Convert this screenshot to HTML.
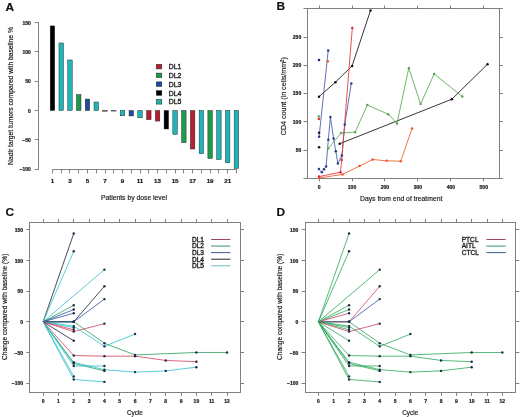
<!DOCTYPE html>
<html><head><meta charset="utf-8"><style>
html,body{margin:0;padding:0;background:#fff;width:520px;height:417px;overflow:hidden}
svg{display:block;font-family:"Liberation Sans", sans-serif;will-change:transform}
text{stroke:#222;stroke-width:0.18px}
.tk{stroke-width:0.22px}
.lg{stroke-width:0.35px}
</style></head><body>
<svg width="520" height="417" viewBox="0 0 520 417">
<rect width="520" height="417" fill="#fff"/>
<text x="0" y="0" font-size="10.9" font-weight="bold" fill="#111" transform="translate(5.5,10.55) scale(1.09,1)">A</text>
<line x1="38.50" y1="22.40" x2="38.50" y2="169.23" stroke="#7a7a7a" stroke-width="0.95"/>
<line x1="34.80" y1="22.50" x2="38.80" y2="22.50" stroke="#7a7a7a" stroke-width="0.95"/>
<text x="30.80" y="24.50" font-size="5.0" text-anchor="end" font-weight="bold" fill="#1a1a1a"  class="tk">150</text>
<line x1="34.80" y1="51.50" x2="38.80" y2="51.50" stroke="#7a7a7a" stroke-width="0.95"/>
<text x="30.80" y="53.87" font-size="5.0" text-anchor="end" font-weight="bold" fill="#1a1a1a"  class="tk">100</text>
<line x1="34.80" y1="81.50" x2="38.80" y2="81.50" stroke="#7a7a7a" stroke-width="0.95"/>
<text x="30.80" y="83.23" font-size="5.0" text-anchor="end" font-weight="bold" fill="#1a1a1a"  class="tk">50</text>
<line x1="34.80" y1="110.50" x2="38.80" y2="110.50" stroke="#7a7a7a" stroke-width="0.95"/>
<text x="30.80" y="112.60" font-size="5.0" text-anchor="end" font-weight="bold" fill="#1a1a1a"  class="tk">0</text>
<line x1="34.80" y1="139.50" x2="38.80" y2="139.50" stroke="#7a7a7a" stroke-width="0.95"/>
<text x="30.80" y="141.97" font-size="5.0" text-anchor="end" font-weight="bold" fill="#1a1a1a"  class="tk">&#8722;50</text>
<line x1="34.80" y1="169.50" x2="38.80" y2="169.50" stroke="#7a7a7a" stroke-width="0.95"/>
<text x="30.80" y="171.33" font-size="5.0" text-anchor="end" font-weight="bold" fill="#1a1a1a"  class="tk">&#8722;100</text>
<rect x="50.20" y="25.93" width="4.5" height="84.57" fill="#000000" stroke="#222" stroke-width="0.45"/>
<rect x="58.96" y="42.96" width="4.5" height="67.54" fill="#1fb4b8" stroke="#222" stroke-width="0.45"/>
<rect x="67.72" y="59.99" width="4.5" height="50.51" fill="#1fb4b8" stroke="#222" stroke-width="0.45"/>
<rect x="76.48" y="94.64" width="4.5" height="15.86" fill="#1f9a4a" stroke="#222" stroke-width="0.45"/>
<rect x="85.24" y="99.05" width="4.5" height="11.45" fill="#1f4a9e" stroke="#222" stroke-width="0.45"/>
<rect x="94.00" y="101.98" width="4.5" height="8.52" fill="#1fb4b8" stroke="#222" stroke-width="0.45"/>
<rect x="102.76" y="110.50" width="4.5" height="0.70" fill="#b5202e" stroke="#222" stroke-width="0.45"/>
<rect x="111.52" y="110.50" width="4.5" height="0.60" fill="#1fb4b8" stroke="#222" stroke-width="0.45"/>
<rect x="120.28" y="110.50" width="4.5" height="5.29" fill="#1fb4b8" stroke="#222" stroke-width="0.45"/>
<rect x="129.04" y="110.50" width="4.5" height="5.46" fill="#1f4a9e" stroke="#222" stroke-width="0.45"/>
<rect x="137.80" y="110.50" width="4.5" height="7.34" fill="#1fb4b8" stroke="#222" stroke-width="0.45"/>
<rect x="146.56" y="110.50" width="4.5" height="9.22" fill="#b5202e" stroke="#222" stroke-width="0.45"/>
<rect x="155.32" y="110.50" width="4.5" height="10.57" fill="#b5202e" stroke="#222" stroke-width="0.45"/>
<rect x="164.08" y="110.50" width="4.5" height="18.50" fill="#000000" stroke="#222" stroke-width="0.45"/>
<rect x="172.84" y="110.50" width="4.5" height="23.90" fill="#1fb4b8" stroke="#222" stroke-width="0.45"/>
<rect x="181.60" y="110.50" width="4.5" height="32.18" fill="#1f9a4a" stroke="#222" stroke-width="0.45"/>
<rect x="190.36" y="110.50" width="4.5" height="38.53" fill="#b5202e" stroke="#222" stroke-width="0.45"/>
<rect x="199.12" y="110.50" width="4.5" height="43.23" fill="#1fb4b8" stroke="#222" stroke-width="0.45"/>
<rect x="207.88" y="110.50" width="4.5" height="48.04" fill="#1f9a4a" stroke="#222" stroke-width="0.45"/>
<rect x="216.64" y="110.50" width="4.5" height="49.10" fill="#1fb4b8" stroke="#222" stroke-width="0.45"/>
<rect x="225.40" y="110.50" width="4.5" height="52.27" fill="#1fb4b8" stroke="#222" stroke-width="0.45"/>
<rect x="234.16" y="110.50" width="4.5" height="58.03" fill="#1fb4b8" stroke="#222" stroke-width="0.45"/>
<line x1="52.45" y1="169.50" x2="236.41" y2="169.50" stroke="#7a7a7a" stroke-width="0.95"/>
<line x1="52.50" y1="169.40" x2="52.50" y2="173.40" stroke="#7a7a7a" stroke-width="0.95"/>
<text x="52.45" y="183.40" font-size="6.2" text-anchor="middle" font-weight="bold" fill="#1a1a1a"  class="tk">1</text>
<line x1="61.50" y1="169.40" x2="61.50" y2="173.40" stroke="#7a7a7a" stroke-width="0.95"/>
<line x1="69.50" y1="169.40" x2="69.50" y2="173.40" stroke="#7a7a7a" stroke-width="0.95"/>
<text x="69.97" y="183.40" font-size="6.2" text-anchor="middle" font-weight="bold" fill="#1a1a1a"  class="tk">3</text>
<line x1="78.50" y1="169.40" x2="78.50" y2="173.40" stroke="#7a7a7a" stroke-width="0.95"/>
<line x1="87.50" y1="169.40" x2="87.50" y2="173.40" stroke="#7a7a7a" stroke-width="0.95"/>
<text x="87.49" y="183.40" font-size="6.2" text-anchor="middle" font-weight="bold" fill="#1a1a1a"  class="tk">5</text>
<line x1="96.50" y1="169.40" x2="96.50" y2="173.40" stroke="#7a7a7a" stroke-width="0.95"/>
<line x1="105.50" y1="169.40" x2="105.50" y2="173.40" stroke="#7a7a7a" stroke-width="0.95"/>
<text x="105.01" y="183.40" font-size="6.2" text-anchor="middle" font-weight="bold" fill="#1a1a1a"  class="tk">7</text>
<line x1="113.50" y1="169.40" x2="113.50" y2="173.40" stroke="#7a7a7a" stroke-width="0.95"/>
<line x1="122.50" y1="169.40" x2="122.50" y2="173.40" stroke="#7a7a7a" stroke-width="0.95"/>
<text x="122.53" y="183.40" font-size="6.2" text-anchor="middle" font-weight="bold" fill="#1a1a1a"  class="tk">9</text>
<line x1="131.50" y1="169.40" x2="131.50" y2="173.40" stroke="#7a7a7a" stroke-width="0.95"/>
<line x1="140.50" y1="169.40" x2="140.50" y2="173.40" stroke="#7a7a7a" stroke-width="0.95"/>
<text x="140.05" y="183.40" font-size="6.2" text-anchor="middle" font-weight="bold" fill="#1a1a1a"  class="tk">11</text>
<line x1="148.50" y1="169.40" x2="148.50" y2="173.40" stroke="#7a7a7a" stroke-width="0.95"/>
<line x1="157.50" y1="169.40" x2="157.50" y2="173.40" stroke="#7a7a7a" stroke-width="0.95"/>
<text x="157.57" y="183.40" font-size="6.2" text-anchor="middle" font-weight="bold" fill="#1a1a1a"  class="tk">13</text>
<line x1="166.50" y1="169.40" x2="166.50" y2="173.40" stroke="#7a7a7a" stroke-width="0.95"/>
<line x1="175.50" y1="169.40" x2="175.50" y2="173.40" stroke="#7a7a7a" stroke-width="0.95"/>
<text x="175.09" y="183.40" font-size="6.2" text-anchor="middle" font-weight="bold" fill="#1a1a1a"  class="tk">15</text>
<line x1="183.50" y1="169.40" x2="183.50" y2="173.40" stroke="#7a7a7a" stroke-width="0.95"/>
<line x1="192.50" y1="169.40" x2="192.50" y2="173.40" stroke="#7a7a7a" stroke-width="0.95"/>
<text x="192.61" y="183.40" font-size="6.2" text-anchor="middle" font-weight="bold" fill="#1a1a1a"  class="tk">17</text>
<line x1="201.50" y1="169.40" x2="201.50" y2="173.40" stroke="#7a7a7a" stroke-width="0.95"/>
<line x1="210.50" y1="169.40" x2="210.50" y2="173.40" stroke="#7a7a7a" stroke-width="0.95"/>
<text x="210.13" y="183.40" font-size="6.2" text-anchor="middle" font-weight="bold" fill="#1a1a1a"  class="tk">19</text>
<line x1="218.50" y1="169.40" x2="218.50" y2="173.40" stroke="#7a7a7a" stroke-width="0.95"/>
<line x1="227.50" y1="169.40" x2="227.50" y2="173.40" stroke="#7a7a7a" stroke-width="0.95"/>
<text x="227.65" y="183.40" font-size="6.2" text-anchor="middle" font-weight="bold" fill="#1a1a1a"  class="tk">21</text>
<line x1="236.50" y1="169.40" x2="236.50" y2="173.40" stroke="#7a7a7a" stroke-width="0.95"/>
<text x="134.00" y="199.80" font-size="6.8" text-anchor="middle" font-weight="normal" fill="#1a1a1a" >Patients by dose level</text>
<text x="0" y="0" font-size="6.72" fill="#1a1a1a" text-anchor="middle" transform="translate(13.4,96.0) rotate(-90)">Nadir target tumors compared with baseline %</text>
<rect x="156.3" y="64.30" width="5.5" height="4.6" fill="#b5202e" stroke="#222" stroke-width="0.5"/>
<text x="168.80" y="69.10" font-size="6.9" text-anchor="start" font-weight="normal" fill="#1a1a1a" class="lg">DL1</text>
<rect x="156.3" y="73.10" width="5.5" height="4.6" fill="#1f9a4a" stroke="#222" stroke-width="0.5"/>
<text x="168.80" y="77.90" font-size="6.9" text-anchor="start" font-weight="normal" fill="#1a1a1a" class="lg">DL2</text>
<rect x="156.3" y="81.90" width="5.5" height="4.6" fill="#1f4a9e" stroke="#222" stroke-width="0.5"/>
<text x="168.80" y="86.70" font-size="6.9" text-anchor="start" font-weight="normal" fill="#1a1a1a" class="lg">DL3</text>
<rect x="156.3" y="90.70" width="5.5" height="4.6" fill="#000000" stroke="#222" stroke-width="0.5"/>
<text x="168.80" y="95.50" font-size="6.9" text-anchor="start" font-weight="normal" fill="#1a1a1a" class="lg">DL4</text>
<rect x="156.3" y="99.50" width="5.5" height="4.6" fill="#20b4a4" stroke="#222" stroke-width="0.5"/>
<text x="168.80" y="104.30" font-size="6.9" text-anchor="start" font-weight="normal" fill="#1a1a1a" class="lg">DL5</text>
<text x="0" y="0" font-size="10.9" font-weight="bold" fill="#111" transform="translate(276.6,10.2) scale(1.09,1)">B</text>
<rect x="307.5" y="8.5" width="192.00" height="170.00" fill="none" stroke="#7a7a7a" stroke-width="0.95"/>
<line x1="303.50" y1="178.50" x2="307.50" y2="178.50" stroke="#7a7a7a" stroke-width="0.95"/>
<line x1="499.40" y1="178.50" x2="502.90" y2="178.50" stroke="#7a7a7a" stroke-width="0.95"/>
<line x1="303.50" y1="8.50" x2="307.50" y2="8.50" stroke="#7a7a7a" stroke-width="0.95"/>
<line x1="499.40" y1="8.50" x2="502.90" y2="8.50" stroke="#7a7a7a" stroke-width="0.95"/>
<line x1="303.50" y1="150.50" x2="307.50" y2="150.50" stroke="#7a7a7a" stroke-width="0.95"/>
<line x1="499.40" y1="150.50" x2="502.90" y2="150.50" stroke="#7a7a7a" stroke-width="0.95"/>
<text x="301.20" y="152.03" font-size="5.0" text-anchor="end" font-weight="bold" fill="#1a1a1a"  class="tk">50</text>
<line x1="303.50" y1="121.50" x2="307.50" y2="121.50" stroke="#7a7a7a" stroke-width="0.95"/>
<line x1="499.40" y1="121.50" x2="502.90" y2="121.50" stroke="#7a7a7a" stroke-width="0.95"/>
<text x="301.20" y="123.75" font-size="5.0" text-anchor="end" font-weight="bold" fill="#1a1a1a"  class="tk">100</text>
<line x1="303.50" y1="93.50" x2="307.50" y2="93.50" stroke="#7a7a7a" stroke-width="0.95"/>
<line x1="499.40" y1="93.50" x2="502.90" y2="93.50" stroke="#7a7a7a" stroke-width="0.95"/>
<text x="301.20" y="95.48" font-size="5.0" text-anchor="end" font-weight="bold" fill="#1a1a1a"  class="tk">150</text>
<line x1="303.50" y1="65.50" x2="307.50" y2="65.50" stroke="#7a7a7a" stroke-width="0.95"/>
<line x1="499.40" y1="65.50" x2="502.90" y2="65.50" stroke="#7a7a7a" stroke-width="0.95"/>
<text x="301.20" y="67.20" font-size="5.0" text-anchor="end" font-weight="bold" fill="#1a1a1a"  class="tk">200</text>
<line x1="303.50" y1="37.50" x2="307.50" y2="37.50" stroke="#7a7a7a" stroke-width="0.95"/>
<line x1="499.40" y1="37.50" x2="502.90" y2="37.50" stroke="#7a7a7a" stroke-width="0.95"/>
<text x="301.20" y="38.93" font-size="5.0" text-anchor="end" font-weight="bold" fill="#1a1a1a"  class="tk">250</text>
<line x1="319.50" y1="178.40" x2="319.50" y2="181.40" stroke="#7a7a7a" stroke-width="0.95"/>
<line x1="319.50" y1="8.60" x2="319.50" y2="5.60" stroke="#7a7a7a" stroke-width="0.95"/>
<text x="319.10" y="188.60" font-size="5.0" text-anchor="middle" font-weight="bold" fill="#1a1a1a"  class="tk">0</text>
<line x1="352.50" y1="178.40" x2="352.50" y2="181.40" stroke="#7a7a7a" stroke-width="0.95"/>
<line x1="352.50" y1="8.60" x2="352.50" y2="5.60" stroke="#7a7a7a" stroke-width="0.95"/>
<text x="352.03" y="188.60" font-size="5.0" text-anchor="middle" font-weight="bold" fill="#1a1a1a"  class="tk">100</text>
<line x1="384.50" y1="178.40" x2="384.50" y2="181.40" stroke="#7a7a7a" stroke-width="0.95"/>
<line x1="384.50" y1="8.60" x2="384.50" y2="5.60" stroke="#7a7a7a" stroke-width="0.95"/>
<text x="384.96" y="188.60" font-size="5.0" text-anchor="middle" font-weight="bold" fill="#1a1a1a"  class="tk">200</text>
<line x1="417.50" y1="178.40" x2="417.50" y2="181.40" stroke="#7a7a7a" stroke-width="0.95"/>
<line x1="417.50" y1="8.60" x2="417.50" y2="5.60" stroke="#7a7a7a" stroke-width="0.95"/>
<text x="417.89" y="188.60" font-size="5.0" text-anchor="middle" font-weight="bold" fill="#1a1a1a"  class="tk">300</text>
<line x1="450.50" y1="178.40" x2="450.50" y2="181.40" stroke="#7a7a7a" stroke-width="0.95"/>
<line x1="450.50" y1="8.60" x2="450.50" y2="5.60" stroke="#7a7a7a" stroke-width="0.95"/>
<text x="450.82" y="188.60" font-size="5.0" text-anchor="middle" font-weight="bold" fill="#1a1a1a"  class="tk">400</text>
<line x1="483.50" y1="178.40" x2="483.50" y2="181.40" stroke="#7a7a7a" stroke-width="0.95"/>
<line x1="483.50" y1="8.60" x2="483.50" y2="5.60" stroke="#7a7a7a" stroke-width="0.95"/>
<text x="483.75" y="188.60" font-size="5.0" text-anchor="middle" font-weight="bold" fill="#1a1a1a"  class="tk">500</text>
<text x="401.20" y="200.80" font-size="6.8" text-anchor="middle" font-weight="normal" fill="#1a1a1a" >Days from end of treatment</text>
<text x="0" y="0" font-size="7.1" fill="#1a1a1a" text-anchor="middle" transform="translate(286.3,96.2) rotate(-90)">CD4 count (in cells/mm&#178;)</text>
<polyline points="319.00,96.70 335.40,82.20 352.10,65.90 370.50,10.50" fill="none" stroke="#111" stroke-width="0.85" stroke-linejoin="round"/>
<polyline points="339.70,143.70 451.90,99.20 487.50,64.20" fill="none" stroke="#111" stroke-width="0.85" stroke-linejoin="round"/>
<polyline points="328.20,148.60 341.10,133.00 355.10,132.20 367.30,105.10 388.20,114.20 397.00,123.40 408.80,67.90 420.60,104.10 434.20,73.90 462.30,96.60" fill="none" stroke="#5aa850" stroke-width="0.85" stroke-linejoin="round"/>
<polyline points="319.10,178.00 342.50,174.40 359.60,166.00 372.60,159.50 386.70,160.80 400.70,161.20 412.10,128.40" fill="none" stroke="#f0582a" stroke-width="0.85" stroke-linejoin="round"/>
<polyline points="319.10,136.80 328.20,50.60" fill="none" stroke="#4558ac" stroke-width="0.85" stroke-linejoin="round"/>
<polyline points="318.90,169.00 321.80,172.30 324.00,169.20 326.10,166.40 328.30,139.80 330.40,117.00 333.60,138.60 335.80,151.30 337.90,163.50 341.90,155.50 344.80,124.50 351.30,83.40" fill="none" stroke="#4558ac" stroke-width="0.85" stroke-linejoin="round"/>
<polyline points="319.00,176.60 340.50,172.20 341.70,160.10 352.30,28.10" fill="none" stroke="#e63038" stroke-width="0.85" stroke-linejoin="round"/>
<circle cx="319.00" cy="96.70" r="1.25" fill="#111"/>
<circle cx="335.40" cy="82.20" r="1.25" fill="#111"/>
<circle cx="352.10" cy="65.90" r="1.25" fill="#111"/>
<circle cx="370.50" cy="10.50" r="1.25" fill="#111"/>
<circle cx="339.70" cy="143.70" r="1.25" fill="#111"/>
<circle cx="451.90" cy="99.20" r="1.25" fill="#111"/>
<circle cx="487.50" cy="64.20" r="1.25" fill="#111"/>
<circle cx="328.20" cy="148.60" r="1.25" fill="#5aa850"/>
<circle cx="341.10" cy="133.00" r="1.25" fill="#5aa850"/>
<circle cx="355.10" cy="132.20" r="1.25" fill="#5aa850"/>
<circle cx="367.30" cy="105.10" r="1.25" fill="#5aa850"/>
<circle cx="388.20" cy="114.20" r="1.25" fill="#5aa850"/>
<circle cx="397.00" cy="123.40" r="1.25" fill="#5aa850"/>
<circle cx="408.80" cy="67.90" r="1.25" fill="#5aa850"/>
<circle cx="420.60" cy="104.10" r="1.25" fill="#5aa850"/>
<circle cx="434.20" cy="73.90" r="1.25" fill="#5aa850"/>
<circle cx="462.30" cy="96.60" r="1.25" fill="#5aa850"/>
<circle cx="319.10" cy="178.00" r="1.25" fill="#f0582a"/>
<circle cx="342.50" cy="174.40" r="1.25" fill="#f0582a"/>
<circle cx="359.60" cy="166.00" r="1.25" fill="#f0582a"/>
<circle cx="372.60" cy="159.50" r="1.25" fill="#f0582a"/>
<circle cx="386.70" cy="160.80" r="1.25" fill="#f0582a"/>
<circle cx="400.70" cy="161.20" r="1.25" fill="#f0582a"/>
<circle cx="412.10" cy="128.40" r="1.25" fill="#f0582a"/>
<circle cx="319.10" cy="136.80" r="1.25" fill="#2c3c8c"/>
<circle cx="328.20" cy="50.60" r="1.25" fill="#2c3c8c"/>
<circle cx="318.90" cy="169.00" r="1.25" fill="#2c3c8c"/>
<circle cx="321.80" cy="172.30" r="1.25" fill="#2c3c8c"/>
<circle cx="324.00" cy="169.20" r="1.25" fill="#2c3c8c"/>
<circle cx="326.10" cy="166.40" r="1.25" fill="#2c3c8c"/>
<circle cx="328.30" cy="139.80" r="1.25" fill="#2c3c8c"/>
<circle cx="330.40" cy="117.00" r="1.25" fill="#2c3c8c"/>
<circle cx="333.60" cy="138.60" r="1.25" fill="#2c3c8c"/>
<circle cx="335.80" cy="151.30" r="1.25" fill="#2c3c8c"/>
<circle cx="337.90" cy="163.50" r="1.25" fill="#2c3c8c"/>
<circle cx="341.90" cy="155.50" r="1.25" fill="#2c3c8c"/>
<circle cx="344.80" cy="124.50" r="1.25" fill="#2c3c8c"/>
<circle cx="351.30" cy="83.40" r="1.25" fill="#2c3c8c"/>
<circle cx="319.00" cy="176.60" r="1.25" fill="#d8283a"/>
<circle cx="340.50" cy="172.20" r="1.25" fill="#d8283a"/>
<circle cx="341.70" cy="160.10" r="1.25" fill="#d8283a"/>
<circle cx="352.30" cy="28.10" r="1.25" fill="#d8283a"/>
<circle cx="319.00" cy="60.00" r="1.3" fill="#1a2a6a"/>
<circle cx="327.80" cy="61.20" r="1.3" fill="#f0582a"/>
<circle cx="318.70" cy="116.50" r="1.3" fill="#5aa850"/>
<circle cx="318.90" cy="119.00" r="1.3" fill="#e63038"/>
<circle cx="319.10" cy="132.80" r="1.3" fill="#111"/>
<circle cx="319.10" cy="147.20" r="1.3" fill="#111"/>
<text x="0" y="0" font-size="10.9" font-weight="bold" fill="#111" transform="translate(5.4,215.9) scale(1.09,1)">C</text>
<rect x="29.50" y="222.5" width="211.00" height="170.00" fill="none" stroke="#7a7a7a" stroke-width="0.95"/>
<line x1="26.30" y1="229.50" x2="29.80" y2="229.50" stroke="#7a7a7a" stroke-width="0.95"/>
<line x1="240.50" y1="229.50" x2="244.00" y2="229.50" stroke="#7a7a7a" stroke-width="0.95"/>
<text x="23.00" y="232.08" font-size="5.0" text-anchor="end" font-weight="bold" fill="#1a1a1a"  class="tk">150</text>
<line x1="26.30" y1="260.50" x2="29.80" y2="260.50" stroke="#7a7a7a" stroke-width="0.95"/>
<line x1="240.50" y1="260.50" x2="244.00" y2="260.50" stroke="#7a7a7a" stroke-width="0.95"/>
<text x="23.00" y="262.75" font-size="5.0" text-anchor="end" font-weight="bold" fill="#1a1a1a"  class="tk">100</text>
<line x1="26.30" y1="291.50" x2="29.80" y2="291.50" stroke="#7a7a7a" stroke-width="0.95"/>
<line x1="240.50" y1="291.50" x2="244.00" y2="291.50" stroke="#7a7a7a" stroke-width="0.95"/>
<text x="23.00" y="293.43" font-size="5.0" text-anchor="end" font-weight="bold" fill="#1a1a1a"  class="tk">50</text>
<line x1="26.30" y1="321.50" x2="29.80" y2="321.50" stroke="#7a7a7a" stroke-width="0.95"/>
<line x1="240.50" y1="321.50" x2="244.00" y2="321.50" stroke="#7a7a7a" stroke-width="0.95"/>
<text x="23.00" y="324.10" font-size="5.0" text-anchor="end" font-weight="bold" fill="#1a1a1a"  class="tk">0</text>
<line x1="26.30" y1="352.50" x2="29.80" y2="352.50" stroke="#7a7a7a" stroke-width="0.95"/>
<line x1="240.50" y1="352.50" x2="244.00" y2="352.50" stroke="#7a7a7a" stroke-width="0.95"/>
<text x="23.00" y="354.78" font-size="5.0" text-anchor="end" font-weight="bold" fill="#1a1a1a"  class="tk">&#8722;50</text>
<line x1="26.30" y1="383.50" x2="29.80" y2="383.50" stroke="#7a7a7a" stroke-width="0.95"/>
<line x1="240.50" y1="383.50" x2="244.00" y2="383.50" stroke="#7a7a7a" stroke-width="0.95"/>
<text x="23.00" y="385.45" font-size="5.0" text-anchor="end" font-weight="bold" fill="#1a1a1a"  class="tk">&#8722;100</text>
<line x1="43.50" y1="392.20" x2="43.50" y2="395.90" stroke="#7a7a7a" stroke-width="0.95"/>
<line x1="43.50" y1="222.50" x2="43.50" y2="219.00" stroke="#7a7a7a" stroke-width="0.95"/>
<text x="43.10" y="403.00" font-size="5.0" text-anchor="middle" font-weight="bold" fill="#1a1a1a"  class="tk">0</text>
<line x1="58.50" y1="392.20" x2="58.50" y2="395.90" stroke="#7a7a7a" stroke-width="0.95"/>
<line x1="58.50" y1="222.50" x2="58.50" y2="219.00" stroke="#7a7a7a" stroke-width="0.95"/>
<text x="58.43" y="403.00" font-size="5.0" text-anchor="middle" font-weight="bold" fill="#1a1a1a"  class="tk">1</text>
<line x1="73.50" y1="392.20" x2="73.50" y2="395.90" stroke="#7a7a7a" stroke-width="0.95"/>
<line x1="73.50" y1="222.50" x2="73.50" y2="219.00" stroke="#7a7a7a" stroke-width="0.95"/>
<text x="73.76" y="403.00" font-size="5.0" text-anchor="middle" font-weight="bold" fill="#1a1a1a"  class="tk">2</text>
<line x1="89.50" y1="392.20" x2="89.50" y2="395.90" stroke="#7a7a7a" stroke-width="0.95"/>
<line x1="89.50" y1="222.50" x2="89.50" y2="219.00" stroke="#7a7a7a" stroke-width="0.95"/>
<text x="89.09" y="403.00" font-size="5.0" text-anchor="middle" font-weight="bold" fill="#1a1a1a"  class="tk">3</text>
<line x1="104.50" y1="392.20" x2="104.50" y2="395.90" stroke="#7a7a7a" stroke-width="0.95"/>
<line x1="104.50" y1="222.50" x2="104.50" y2="219.00" stroke="#7a7a7a" stroke-width="0.95"/>
<text x="104.42" y="403.00" font-size="5.0" text-anchor="middle" font-weight="bold" fill="#1a1a1a"  class="tk">4</text>
<line x1="119.50" y1="392.20" x2="119.50" y2="395.90" stroke="#7a7a7a" stroke-width="0.95"/>
<line x1="119.50" y1="222.50" x2="119.50" y2="219.00" stroke="#7a7a7a" stroke-width="0.95"/>
<text x="119.75" y="403.00" font-size="5.0" text-anchor="middle" font-weight="bold" fill="#1a1a1a"  class="tk">5</text>
<line x1="135.50" y1="392.20" x2="135.50" y2="395.90" stroke="#7a7a7a" stroke-width="0.95"/>
<line x1="135.50" y1="222.50" x2="135.50" y2="219.00" stroke="#7a7a7a" stroke-width="0.95"/>
<text x="135.08" y="403.00" font-size="5.0" text-anchor="middle" font-weight="bold" fill="#1a1a1a"  class="tk">6</text>
<line x1="150.50" y1="392.20" x2="150.50" y2="395.90" stroke="#7a7a7a" stroke-width="0.95"/>
<line x1="150.50" y1="222.50" x2="150.50" y2="219.00" stroke="#7a7a7a" stroke-width="0.95"/>
<text x="150.41" y="403.00" font-size="5.0" text-anchor="middle" font-weight="bold" fill="#1a1a1a"  class="tk">7</text>
<line x1="165.50" y1="392.20" x2="165.50" y2="395.90" stroke="#7a7a7a" stroke-width="0.95"/>
<line x1="165.50" y1="222.50" x2="165.50" y2="219.00" stroke="#7a7a7a" stroke-width="0.95"/>
<text x="165.74" y="403.00" font-size="5.0" text-anchor="middle" font-weight="bold" fill="#1a1a1a"  class="tk">8</text>
<line x1="181.50" y1="392.20" x2="181.50" y2="395.90" stroke="#7a7a7a" stroke-width="0.95"/>
<line x1="181.50" y1="222.50" x2="181.50" y2="219.00" stroke="#7a7a7a" stroke-width="0.95"/>
<text x="181.07" y="403.00" font-size="5.0" text-anchor="middle" font-weight="bold" fill="#1a1a1a"  class="tk">9</text>
<line x1="196.50" y1="392.20" x2="196.50" y2="395.90" stroke="#7a7a7a" stroke-width="0.95"/>
<line x1="196.50" y1="222.50" x2="196.50" y2="219.00" stroke="#7a7a7a" stroke-width="0.95"/>
<text x="196.40" y="403.00" font-size="5.0" text-anchor="middle" font-weight="bold" fill="#1a1a1a"  class="tk">10</text>
<line x1="211.50" y1="392.20" x2="211.50" y2="395.90" stroke="#7a7a7a" stroke-width="0.95"/>
<line x1="211.50" y1="222.50" x2="211.50" y2="219.00" stroke="#7a7a7a" stroke-width="0.95"/>
<text x="211.73" y="403.00" font-size="5.0" text-anchor="middle" font-weight="bold" fill="#1a1a1a"  class="tk">11</text>
<line x1="227.50" y1="392.20" x2="227.50" y2="395.90" stroke="#7a7a7a" stroke-width="0.95"/>
<line x1="227.50" y1="222.50" x2="227.50" y2="219.00" stroke="#7a7a7a" stroke-width="0.95"/>
<text x="227.06" y="403.00" font-size="5.0" text-anchor="middle" font-weight="bold" fill="#1a1a1a"  class="tk">12</text>
<text x="134.90" y="414.80" font-size="6.4" text-anchor="middle" font-weight="normal" fill="#1a1a1a" >Cycle</text>
<text x="0" y="0" font-size="6.6" fill="#1a1a1a" text-anchor="middle" transform="translate(6.90,306.8) rotate(-90)">Change compared with baseline (%)</text>
<text x="191.90" y="241.85" font-size="6.6" text-anchor="start" font-weight="normal" fill="#1a1a1a" class="lg">DL1</text>
<line x1="211.10" y1="239.50" x2="230.40" y2="239.50" stroke="#a04858" stroke-width="1.0"/>
<text x="191.90" y="248.42" font-size="6.6" text-anchor="start" font-weight="normal" fill="#1a1a1a" class="lg">DL2</text>
<line x1="211.10" y1="246.07" x2="230.40" y2="246.07" stroke="#35966e" stroke-width="1.0"/>
<text x="191.90" y="254.99" font-size="6.6" text-anchor="start" font-weight="normal" fill="#1a1a1a" class="lg">DL3</text>
<line x1="211.10" y1="252.64" x2="230.40" y2="252.64" stroke="#3a5890" stroke-width="1.0"/>
<text x="191.90" y="261.56" font-size="6.6" text-anchor="start" font-weight="normal" fill="#1a1a1a" class="lg">DL4</text>
<line x1="211.10" y1="259.21" x2="230.40" y2="259.21" stroke="#262636" stroke-width="1.0"/>
<text x="191.90" y="268.13" font-size="6.6" text-anchor="start" font-weight="normal" fill="#1a1a1a" class="lg">DL5</text>
<line x1="211.10" y1="265.78" x2="230.40" y2="265.78" stroke="#60c0c8" stroke-width="1.0"/>
<polyline points="43.10,321.80 73.76,321.80 104.42,343.27 135.08,354.93 196.40,352.48 227.06,352.48" fill="none" stroke="#2aa060" stroke-width="0.8" stroke-linejoin="round"/>
<polyline points="43.10,321.80 73.76,233.46" fill="none" stroke="#1a1a3a" stroke-width="0.8" stroke-linejoin="round"/>
<polyline points="43.10,321.80 73.76,251.25" fill="none" stroke="#30c0cc" stroke-width="0.8" stroke-linejoin="round"/>
<polyline points="43.10,321.80 104.42,269.65" fill="none" stroke="#30c0cc" stroke-width="0.8" stroke-linejoin="round"/>
<polyline points="43.10,321.80 73.76,305.24" fill="none" stroke="#2aa060" stroke-width="0.8" stroke-linejoin="round"/>
<polyline points="43.10,321.80 73.76,309.53" fill="none" stroke="#3050a0" stroke-width="0.8" stroke-linejoin="round"/>
<polyline points="43.10,321.80 73.76,313.21" fill="none" stroke="#3050a0" stroke-width="0.8" stroke-linejoin="round"/>
<polyline points="43.10,321.80 73.76,321.80 104.42,286.22" fill="none" stroke="#1a1a3a" stroke-width="0.8" stroke-linejoin="round"/>
<polyline points="43.10,321.80 73.76,321.80 104.42,299.10" fill="none" stroke="#3050a0" stroke-width="0.8" stroke-linejoin="round"/>
<polyline points="43.10,321.80 73.76,326.09 104.42,346.34 135.08,334.07" fill="none" stroke="#30c0cc" stroke-width="0.8" stroke-linejoin="round"/>
<polyline points="43.10,321.80 73.76,327.63" fill="none" stroke="#30c0cc" stroke-width="0.8" stroke-linejoin="round"/>
<polyline points="43.10,321.80 73.76,329.78" fill="none" stroke="#d0405a" stroke-width="0.8" stroke-linejoin="round"/>
<polyline points="43.10,321.80 73.76,331.62 104.42,323.64" fill="none" stroke="#d0405a" stroke-width="0.8" stroke-linejoin="round"/>
<polyline points="43.10,321.80 73.76,340.82" fill="none" stroke="#1a1a3a" stroke-width="0.8" stroke-linejoin="round"/>
<polyline points="43.10,321.80 73.76,355.54 104.42,356.16 135.08,356.16 165.74,360.45 196.40,361.68" fill="none" stroke="#d0405a" stroke-width="0.8" stroke-linejoin="round"/>
<polyline points="43.10,321.80 73.76,362.29 104.42,369.65 135.08,372.11 165.74,370.88 196.40,367.20" fill="none" stroke="#30c0cc" stroke-width="0.8" stroke-linejoin="round"/>
<polyline points="43.10,321.80 73.76,363.52 104.42,370.88" fill="none" stroke="#2aa060" stroke-width="0.8" stroke-linejoin="round"/>
<polyline points="43.10,321.80 73.76,365.97 104.42,365.97" fill="none" stroke="#30c0cc" stroke-width="0.8" stroke-linejoin="round"/>
<polyline points="43.10,321.80 73.76,376.40" fill="none" stroke="#30c0cc" stroke-width="0.8" stroke-linejoin="round"/>
<polyline points="43.10,321.80 73.76,379.47 104.42,381.92" fill="none" stroke="#30c0cc" stroke-width="0.8" stroke-linejoin="round"/>
<circle cx="73.76" cy="321.80" r="1.2" fill="#202a48"/>
<circle cx="104.42" cy="343.27" r="1.2" fill="#202a48"/>
<circle cx="135.08" cy="354.93" r="1.2" fill="#202a48"/>
<circle cx="196.40" cy="352.48" r="1.2" fill="#202a48"/>
<circle cx="227.06" cy="352.48" r="1.2" fill="#202a48"/>
<circle cx="73.76" cy="233.46" r="1.2" fill="#202a48"/>
<circle cx="73.76" cy="251.25" r="1.2" fill="#202a48"/>
<circle cx="104.42" cy="269.65" r="1.2" fill="#202a48"/>
<circle cx="73.76" cy="305.24" r="1.2" fill="#202a48"/>
<circle cx="73.76" cy="309.53" r="1.2" fill="#202a48"/>
<circle cx="73.76" cy="313.21" r="1.2" fill="#202a48"/>
<circle cx="73.76" cy="321.80" r="1.2" fill="#202a48"/>
<circle cx="104.42" cy="286.22" r="1.2" fill="#202a48"/>
<circle cx="73.76" cy="321.80" r="1.2" fill="#202a48"/>
<circle cx="104.42" cy="299.10" r="1.2" fill="#202a48"/>
<circle cx="73.76" cy="326.09" r="1.2" fill="#202a48"/>
<circle cx="104.42" cy="346.34" r="1.2" fill="#202a48"/>
<circle cx="135.08" cy="334.07" r="1.2" fill="#202a48"/>
<circle cx="73.76" cy="327.63" r="1.2" fill="#202a48"/>
<circle cx="73.76" cy="329.78" r="1.2" fill="#202a48"/>
<circle cx="73.76" cy="331.62" r="1.2" fill="#202a48"/>
<circle cx="104.42" cy="323.64" r="1.2" fill="#202a48"/>
<circle cx="73.76" cy="340.82" r="1.2" fill="#202a48"/>
<circle cx="73.76" cy="355.54" r="1.2" fill="#202a48"/>
<circle cx="104.42" cy="356.16" r="1.2" fill="#202a48"/>
<circle cx="135.08" cy="356.16" r="1.2" fill="#202a48"/>
<circle cx="165.74" cy="360.45" r="1.2" fill="#202a48"/>
<circle cx="196.40" cy="361.68" r="1.2" fill="#202a48"/>
<circle cx="73.76" cy="362.29" r="1.2" fill="#202a48"/>
<circle cx="104.42" cy="369.65" r="1.2" fill="#202a48"/>
<circle cx="135.08" cy="372.11" r="1.2" fill="#202a48"/>
<circle cx="165.74" cy="370.88" r="1.2" fill="#202a48"/>
<circle cx="196.40" cy="367.20" r="1.2" fill="#202a48"/>
<circle cx="73.76" cy="363.52" r="1.2" fill="#202a48"/>
<circle cx="104.42" cy="370.88" r="1.2" fill="#202a48"/>
<circle cx="73.76" cy="365.97" r="1.2" fill="#202a48"/>
<circle cx="104.42" cy="365.97" r="1.2" fill="#202a48"/>
<circle cx="73.76" cy="376.40" r="1.2" fill="#202a48"/>
<circle cx="73.76" cy="379.47" r="1.2" fill="#202a48"/>
<circle cx="104.42" cy="381.92" r="1.2" fill="#202a48"/>
<text x="0" y="0" font-size="10.9" font-weight="bold" fill="#111" transform="translate(276.4,215.9) scale(1.09,1)">D</text>
<rect x="305.50" y="222.5" width="210.00" height="170.00" fill="none" stroke="#7a7a7a" stroke-width="0.95"/>
<line x1="301.60" y1="229.50" x2="305.10" y2="229.50" stroke="#7a7a7a" stroke-width="0.95"/>
<line x1="515.80" y1="229.50" x2="519.30" y2="229.50" stroke="#7a7a7a" stroke-width="0.95"/>
<text x="298.30" y="232.08" font-size="5.0" text-anchor="end" font-weight="bold" fill="#1a1a1a"  class="tk">150</text>
<line x1="301.60" y1="260.50" x2="305.10" y2="260.50" stroke="#7a7a7a" stroke-width="0.95"/>
<line x1="515.80" y1="260.50" x2="519.30" y2="260.50" stroke="#7a7a7a" stroke-width="0.95"/>
<text x="298.30" y="262.75" font-size="5.0" text-anchor="end" font-weight="bold" fill="#1a1a1a"  class="tk">100</text>
<line x1="301.60" y1="291.50" x2="305.10" y2="291.50" stroke="#7a7a7a" stroke-width="0.95"/>
<line x1="515.80" y1="291.50" x2="519.30" y2="291.50" stroke="#7a7a7a" stroke-width="0.95"/>
<text x="298.30" y="293.43" font-size="5.0" text-anchor="end" font-weight="bold" fill="#1a1a1a"  class="tk">50</text>
<line x1="301.60" y1="321.50" x2="305.10" y2="321.50" stroke="#7a7a7a" stroke-width="0.95"/>
<line x1="515.80" y1="321.50" x2="519.30" y2="321.50" stroke="#7a7a7a" stroke-width="0.95"/>
<text x="298.30" y="324.10" font-size="5.0" text-anchor="end" font-weight="bold" fill="#1a1a1a"  class="tk">0</text>
<line x1="301.60" y1="352.50" x2="305.10" y2="352.50" stroke="#7a7a7a" stroke-width="0.95"/>
<line x1="515.80" y1="352.50" x2="519.30" y2="352.50" stroke="#7a7a7a" stroke-width="0.95"/>
<text x="298.30" y="354.78" font-size="5.0" text-anchor="end" font-weight="bold" fill="#1a1a1a"  class="tk">&#8722;50</text>
<line x1="301.60" y1="383.50" x2="305.10" y2="383.50" stroke="#7a7a7a" stroke-width="0.95"/>
<line x1="515.80" y1="383.50" x2="519.30" y2="383.50" stroke="#7a7a7a" stroke-width="0.95"/>
<text x="298.30" y="385.45" font-size="5.0" text-anchor="end" font-weight="bold" fill="#1a1a1a"  class="tk">&#8722;100</text>
<line x1="318.50" y1="392.20" x2="318.50" y2="395.90" stroke="#7a7a7a" stroke-width="0.95"/>
<line x1="318.50" y1="222.50" x2="318.50" y2="219.00" stroke="#7a7a7a" stroke-width="0.95"/>
<text x="318.40" y="403.00" font-size="5.0" text-anchor="middle" font-weight="bold" fill="#1a1a1a"  class="tk">0</text>
<line x1="333.50" y1="392.20" x2="333.50" y2="395.90" stroke="#7a7a7a" stroke-width="0.95"/>
<line x1="333.50" y1="222.50" x2="333.50" y2="219.00" stroke="#7a7a7a" stroke-width="0.95"/>
<text x="333.73" y="403.00" font-size="5.0" text-anchor="middle" font-weight="bold" fill="#1a1a1a"  class="tk">1</text>
<line x1="349.50" y1="392.20" x2="349.50" y2="395.90" stroke="#7a7a7a" stroke-width="0.95"/>
<line x1="349.50" y1="222.50" x2="349.50" y2="219.00" stroke="#7a7a7a" stroke-width="0.95"/>
<text x="349.06" y="403.00" font-size="5.0" text-anchor="middle" font-weight="bold" fill="#1a1a1a"  class="tk">2</text>
<line x1="364.50" y1="392.20" x2="364.50" y2="395.90" stroke="#7a7a7a" stroke-width="0.95"/>
<line x1="364.50" y1="222.50" x2="364.50" y2="219.00" stroke="#7a7a7a" stroke-width="0.95"/>
<text x="364.39" y="403.00" font-size="5.0" text-anchor="middle" font-weight="bold" fill="#1a1a1a"  class="tk">3</text>
<line x1="379.50" y1="392.20" x2="379.50" y2="395.90" stroke="#7a7a7a" stroke-width="0.95"/>
<line x1="379.50" y1="222.50" x2="379.50" y2="219.00" stroke="#7a7a7a" stroke-width="0.95"/>
<text x="379.72" y="403.00" font-size="5.0" text-anchor="middle" font-weight="bold" fill="#1a1a1a"  class="tk">4</text>
<line x1="395.50" y1="392.20" x2="395.50" y2="395.90" stroke="#7a7a7a" stroke-width="0.95"/>
<line x1="395.50" y1="222.50" x2="395.50" y2="219.00" stroke="#7a7a7a" stroke-width="0.95"/>
<text x="395.05" y="403.00" font-size="5.0" text-anchor="middle" font-weight="bold" fill="#1a1a1a"  class="tk">5</text>
<line x1="410.50" y1="392.20" x2="410.50" y2="395.90" stroke="#7a7a7a" stroke-width="0.95"/>
<line x1="410.50" y1="222.50" x2="410.50" y2="219.00" stroke="#7a7a7a" stroke-width="0.95"/>
<text x="410.38" y="403.00" font-size="5.0" text-anchor="middle" font-weight="bold" fill="#1a1a1a"  class="tk">6</text>
<line x1="425.50" y1="392.20" x2="425.50" y2="395.90" stroke="#7a7a7a" stroke-width="0.95"/>
<line x1="425.50" y1="222.50" x2="425.50" y2="219.00" stroke="#7a7a7a" stroke-width="0.95"/>
<text x="425.71" y="403.00" font-size="5.0" text-anchor="middle" font-weight="bold" fill="#1a1a1a"  class="tk">7</text>
<line x1="441.50" y1="392.20" x2="441.50" y2="395.90" stroke="#7a7a7a" stroke-width="0.95"/>
<line x1="441.50" y1="222.50" x2="441.50" y2="219.00" stroke="#7a7a7a" stroke-width="0.95"/>
<text x="441.04" y="403.00" font-size="5.0" text-anchor="middle" font-weight="bold" fill="#1a1a1a"  class="tk">8</text>
<line x1="456.50" y1="392.20" x2="456.50" y2="395.90" stroke="#7a7a7a" stroke-width="0.95"/>
<line x1="456.50" y1="222.50" x2="456.50" y2="219.00" stroke="#7a7a7a" stroke-width="0.95"/>
<text x="456.37" y="403.00" font-size="5.0" text-anchor="middle" font-weight="bold" fill="#1a1a1a"  class="tk">9</text>
<line x1="471.50" y1="392.20" x2="471.50" y2="395.90" stroke="#7a7a7a" stroke-width="0.95"/>
<line x1="471.50" y1="222.50" x2="471.50" y2="219.00" stroke="#7a7a7a" stroke-width="0.95"/>
<text x="471.70" y="403.00" font-size="5.0" text-anchor="middle" font-weight="bold" fill="#1a1a1a"  class="tk">10</text>
<line x1="487.50" y1="392.20" x2="487.50" y2="395.90" stroke="#7a7a7a" stroke-width="0.95"/>
<line x1="487.50" y1="222.50" x2="487.50" y2="219.00" stroke="#7a7a7a" stroke-width="0.95"/>
<text x="487.03" y="403.00" font-size="5.0" text-anchor="middle" font-weight="bold" fill="#1a1a1a"  class="tk">11</text>
<line x1="502.50" y1="392.20" x2="502.50" y2="395.90" stroke="#7a7a7a" stroke-width="0.95"/>
<line x1="502.50" y1="222.50" x2="502.50" y2="219.00" stroke="#7a7a7a" stroke-width="0.95"/>
<text x="502.36" y="403.00" font-size="5.0" text-anchor="middle" font-weight="bold" fill="#1a1a1a"  class="tk">12</text>
<text x="410.20" y="414.80" font-size="6.4" text-anchor="middle" font-weight="normal" fill="#1a1a1a" >Cycle</text>
<text x="0" y="0" font-size="6.6" fill="#1a1a1a" text-anchor="middle" transform="translate(282.20,306.8) rotate(-90)">Change compared with baseline (%)</text>
<text x="461.70" y="241.85" font-size="6.6" text-anchor="start" font-weight="normal" fill="#1a1a1a" class="lg">PTCL</text>
<line x1="486.40" y1="239.50" x2="505.70" y2="239.50" stroke="#a04858" stroke-width="1.0"/>
<text x="461.70" y="248.42" font-size="6.6" text-anchor="start" font-weight="normal" fill="#1a1a1a" class="lg">AITL</text>
<line x1="486.40" y1="246.07" x2="505.70" y2="246.07" stroke="#35966e" stroke-width="1.0"/>
<text x="461.70" y="254.99" font-size="6.6" text-anchor="start" font-weight="normal" fill="#1a1a1a" class="lg">CTCL</text>
<line x1="486.40" y1="252.64" x2="505.70" y2="252.64" stroke="#3a5890" stroke-width="1.0"/>
<polyline points="318.40,321.80 349.06,321.80 379.72,343.27 410.38,354.93 471.70,352.48 502.36,352.48" fill="none" stroke="#2aa858" stroke-width="0.8" stroke-linejoin="round"/>
<polyline points="318.40,321.80 349.06,233.46" fill="none" stroke="#2aa858" stroke-width="0.8" stroke-linejoin="round"/>
<polyline points="318.40,321.80 349.06,251.25" fill="none" stroke="#2aa858" stroke-width="0.8" stroke-linejoin="round"/>
<polyline points="318.40,321.80 379.72,269.65" fill="none" stroke="#2aa858" stroke-width="0.8" stroke-linejoin="round"/>
<polyline points="318.40,321.80 349.06,305.24" fill="none" stroke="#2aa858" stroke-width="0.8" stroke-linejoin="round"/>
<polyline points="318.40,321.80 349.06,309.53" fill="none" stroke="#2aa858" stroke-width="0.8" stroke-linejoin="round"/>
<polyline points="318.40,321.80 349.06,313.21" fill="none" stroke="#d04060" stroke-width="0.8" stroke-linejoin="round"/>
<polyline points="318.40,321.80 349.06,321.80 379.72,286.22" fill="none" stroke="#d04060" stroke-width="0.8" stroke-linejoin="round"/>
<polyline points="318.40,321.80 349.06,321.80 379.72,299.10" fill="none" stroke="#3055a8" stroke-width="0.8" stroke-linejoin="round"/>
<polyline points="318.40,321.80 349.06,326.09 379.72,346.34 410.38,334.07" fill="none" stroke="#2aa858" stroke-width="0.8" stroke-linejoin="round"/>
<polyline points="318.40,321.80 349.06,327.63" fill="none" stroke="#2aa858" stroke-width="0.8" stroke-linejoin="round"/>
<polyline points="318.40,321.80 349.06,329.78" fill="none" stroke="#2aa858" stroke-width="0.8" stroke-linejoin="round"/>
<polyline points="318.40,321.80 349.06,331.62 379.72,323.64" fill="none" stroke="#d04060" stroke-width="0.8" stroke-linejoin="round"/>
<polyline points="318.40,321.80 349.06,340.82" fill="none" stroke="#2aa858" stroke-width="0.8" stroke-linejoin="round"/>
<polyline points="318.40,321.80 349.06,355.54 379.72,356.16 410.38,356.16 441.04,360.45 471.70,361.68" fill="none" stroke="#2aa858" stroke-width="0.8" stroke-linejoin="round"/>
<polyline points="318.40,321.80 349.06,362.29 379.72,369.65 410.38,372.11 441.04,370.88 471.70,367.20" fill="none" stroke="#2aa858" stroke-width="0.8" stroke-linejoin="round"/>
<polyline points="318.40,321.80 349.06,363.52 379.72,370.88" fill="none" stroke="#2aa858" stroke-width="0.8" stroke-linejoin="round"/>
<polyline points="318.40,321.80 349.06,365.97 379.72,365.97" fill="none" stroke="#2aa858" stroke-width="0.8" stroke-linejoin="round"/>
<polyline points="318.40,321.80 349.06,376.40" fill="none" stroke="#2aa858" stroke-width="0.8" stroke-linejoin="round"/>
<polyline points="318.40,321.80 349.06,379.47 379.72,381.92" fill="none" stroke="#2aa858" stroke-width="0.8" stroke-linejoin="round"/>
<circle cx="349.06" cy="321.80" r="1.2" fill="#202a48"/>
<circle cx="379.72" cy="343.27" r="1.2" fill="#202a48"/>
<circle cx="410.38" cy="354.93" r="1.2" fill="#202a48"/>
<circle cx="471.70" cy="352.48" r="1.2" fill="#202a48"/>
<circle cx="502.36" cy="352.48" r="1.2" fill="#202a48"/>
<circle cx="349.06" cy="233.46" r="1.2" fill="#202a48"/>
<circle cx="349.06" cy="251.25" r="1.2" fill="#202a48"/>
<circle cx="379.72" cy="269.65" r="1.2" fill="#202a48"/>
<circle cx="349.06" cy="305.24" r="1.2" fill="#202a48"/>
<circle cx="349.06" cy="309.53" r="1.2" fill="#202a48"/>
<circle cx="349.06" cy="313.21" r="1.2" fill="#202a48"/>
<circle cx="349.06" cy="321.80" r="1.2" fill="#202a48"/>
<circle cx="379.72" cy="286.22" r="1.2" fill="#202a48"/>
<circle cx="349.06" cy="321.80" r="1.2" fill="#202a48"/>
<circle cx="379.72" cy="299.10" r="1.2" fill="#202a48"/>
<circle cx="349.06" cy="326.09" r="1.2" fill="#202a48"/>
<circle cx="379.72" cy="346.34" r="1.2" fill="#202a48"/>
<circle cx="410.38" cy="334.07" r="1.2" fill="#202a48"/>
<circle cx="349.06" cy="327.63" r="1.2" fill="#202a48"/>
<circle cx="349.06" cy="329.78" r="1.2" fill="#202a48"/>
<circle cx="349.06" cy="331.62" r="1.2" fill="#202a48"/>
<circle cx="379.72" cy="323.64" r="1.2" fill="#202a48"/>
<circle cx="349.06" cy="340.82" r="1.2" fill="#202a48"/>
<circle cx="349.06" cy="355.54" r="1.2" fill="#202a48"/>
<circle cx="379.72" cy="356.16" r="1.2" fill="#202a48"/>
<circle cx="410.38" cy="356.16" r="1.2" fill="#202a48"/>
<circle cx="441.04" cy="360.45" r="1.2" fill="#202a48"/>
<circle cx="471.70" cy="361.68" r="1.2" fill="#202a48"/>
<circle cx="349.06" cy="362.29" r="1.2" fill="#202a48"/>
<circle cx="379.72" cy="369.65" r="1.2" fill="#202a48"/>
<circle cx="410.38" cy="372.11" r="1.2" fill="#202a48"/>
<circle cx="441.04" cy="370.88" r="1.2" fill="#202a48"/>
<circle cx="471.70" cy="367.20" r="1.2" fill="#202a48"/>
<circle cx="349.06" cy="363.52" r="1.2" fill="#202a48"/>
<circle cx="379.72" cy="370.88" r="1.2" fill="#202a48"/>
<circle cx="349.06" cy="365.97" r="1.2" fill="#202a48"/>
<circle cx="379.72" cy="365.97" r="1.2" fill="#202a48"/>
<circle cx="349.06" cy="376.40" r="1.2" fill="#202a48"/>
<circle cx="349.06" cy="379.47" r="1.2" fill="#202a48"/>
<circle cx="379.72" cy="381.92" r="1.2" fill="#202a48"/>
</svg>
</body></html>
